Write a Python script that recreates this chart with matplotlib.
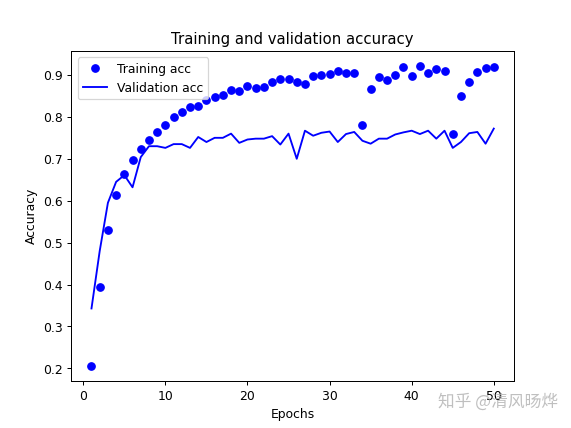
import matplotlib
matplotlib.use('Agg')
import matplotlib.pyplot as plt

epochs = list(range(1, 51))

# training accuracy
acc = [0.206, 0.394, 0.531, 0.614, 0.663, 0.697, 0.724, 0.746, 0.765, 0.781,
       0.800, 0.811, 0.823, 0.827, 0.840, 0.848, 0.851, 0.864, 0.862, 0.874,
       0.870, 0.871, 0.884, 0.890, 0.890, 0.882, 0.878, 0.898, 0.901, 0.902,
       0.909, 0.905, 0.904, 0.780, 0.866, 0.894, 0.888, 0.901, 0.919, 0.898,
       0.921, 0.904, 0.914, 0.910, 0.759, 0.850, 0.882, 0.906, 0.917, 0.920]

# validation accuracy
val_acc = [0.343, 0.480, 0.595, 0.645, 0.661, 0.632, 0.704, 0.730, 0.730, 0.726,
           0.735, 0.735, 0.726, 0.752, 0.740, 0.750, 0.750, 0.760, 0.738, 0.746,
           0.748, 0.748, 0.754, 0.734, 0.760, 0.700, 0.767, 0.755, 0.762, 0.765,
           0.740, 0.759, 0.764, 0.743, 0.736, 0.748, 0.748, 0.758, 0.763, 0.767,
           0.759, 0.767, 0.748, 0.767, 0.726, 0.740, 0.761, 0.764, 0.736, 0.772]

fig = plt.figure(figsize=(6.4, 4.8), dpi=571 / 6.4)
ax = fig.add_subplot(111)

ax.plot(epochs, acc, 'bo', label='Training acc')
ax.plot(epochs, val_acc, 'b', label='Validation acc')
ax.set_title('Training and validation accuracy')
ax.set_xlabel('Epochs')
ax.set_ylabel('Accuracy')
ax.legend(loc='upper left')

# watermark (sits over the last tick label, as in the original)
fig.text(0.977, 0.062, '知乎 @清风旸烨', ha='right', va='center',
         color='#b0b0b0', alpha=0.8, fontsize=13.5,
         family=['Noto Sans CJK SC', 'DejaVu Sans'])

fig.savefig('out.png', dpi=571 / 6.4)
